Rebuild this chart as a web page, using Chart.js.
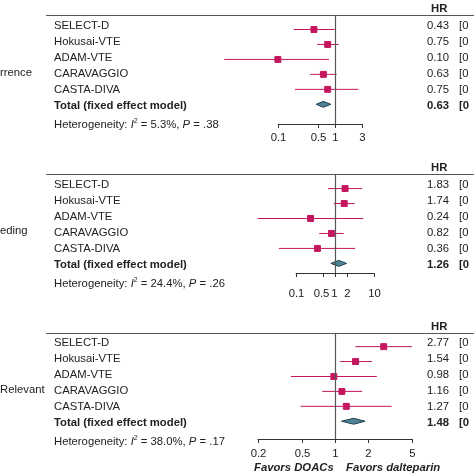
<!DOCTYPE html>
<html><head><meta charset="utf-8">
<script src="https://cdn.jsdelivr.net/npm/chart.js@4/dist/chart.umd.min.js"></script>
<style>
body{margin:0;background:#fff;width:474px;height:474px;overflow:hidden;position:relative;font-family:"Liberation Sans",Arial,sans-serif;color:#222}
canvas{position:absolute;left:0}
.t{position:absolute;font-size:11.3px;white-space:nowrap;line-height:13px}
.b{font-weight:bold}
.r{text-align:right;width:40px}
</style></head><body>
<script>
const studies=["SELECT-D","Hokusai-VTE","ADAM-VTE","CARAVAGGIO","CASTA-DIVA"];
const totalLabel="Total (fixed effect model)";
const outcomes=["rrence","eding","Relevant"];
const hr1=[0.43,0.75,0.10,0.63,0.75], lo1=[0.19,0.49,0.0114,0.37,0.20], hi1=[1.0,1.17,0.79,1.08,2.6];
const tot1=[0.63,0.47,0.85];
const hr2=[1.83,1.74,0.24,0.82,0.36], lo2=[0.67,0.94,0.0106,0.40,0.037], hi2=[5.0,3.2,5.3,1.68,3.3];
const tot2=[1.26,0.79,2.0];
const hr3=[2.77,1.54,0.98,1.16,1.27], lo3=[1.53,1.11,0.40,0.77,0.49], hi3=[5.0,2.17,2.4,1.77,3.26];
const tot3=[1.48,1.15,1.88];
const ticks1=[0.1,0.5,1,3], ticks2=[0.1,0.5,1,2,10], ticks3=[0.2,0.5,1,2,5];
const tickLbl2=["0.1","0.5","1","2","10"];
const het=["5.3%",".38","24.4%",".26","38.0%",".17"];

const panels=[
 {top:0,h:160,hr:hr1,lo:lo1,hi:hi1,tot:tot1,ticks:ticks1,ppd:58.2,row0:26,hdr:15,axis:124,lab:132,lbl:ticks1.map(String),het:[het[0],het[1]],out:outcomes[0],outY:66},
 {top:160,h:160,hr:hr2,lo:lo2,hi:hi2,tot:tot2,ticks:ticks2,ppd:40,row0:25,hdr:14,axis:113,lab:128,lbl:tickLbl2,het:[het[2],het[3]],out:outcomes[1],outY:64},
 {top:320,h:154,hr:hr3,lo:lo3,hi:hi3,tot:tot3,ticks:ticks3,ppd:113,row0:23,hdr:13,axis:119,lab:128,lbl:ticks3.map(String),het:[het[4],het[5]],out:outcomes[2],outY:63}
];
const CX=337, PINK="#c4175f";
function addText(txt,x,y,cls){const d=document.createElement('div');d.className='t '+(cls||'');d.style.left=x+'px';d.style.top=y+'px';d.innerHTML=txt;document.body.appendChild(d);return d;}

panels.forEach((p,pi)=>{
  const c=document.createElement('canvas');c.width=474;c.height=p.h;c.style.top=p.top+'px';c.style.width='474px';c.style.height=p.h+'px';document.body.appendChild(c);
  const ds=[];
  p.hr.forEach((v,i)=>ds.push({type:'line',data:[{x:p.lo[i],y:i},{x:p.hi[i],y:i}],borderColor:PINK,borderWidth:1,pointRadius:0}));
  ds.push({type:'scatter',data:p.hr.map((v,i)=>({x:v,y:i})),pointStyle:'rect',pointRadius:4.2,backgroundColor:PINK,borderColor:PINK});
  const t=p.tot;
  ds.push({type:'line',data:[{x:t[1],y:5},{x:t[0],y:4.8},{x:t[2],y:5},{x:t[0],y:5.2},{x:t[1],y:5}],fill:'shape',backgroundColor:'#4f8296',borderColor:'#1f3f4f',borderWidth:1,pointRadius:0,tension:0});
  const ymin=-p.row0/16;
  const plug={id:'ax'+pi,afterDraw(ch){
    const ctx=ch.ctx,xs=ch.scales.x;ctx.save();
    ctx.strokeStyle='#555';ctx.lineWidth=1.2;
    ctx.beginPath();ctx.moveTo(46,p.hdr+0.5);ctx.lineTo(474,p.hdr+0.5);ctx.stroke();
    const x1=Math.round(xs.getPixelForValue(1))+0.5;
    ctx.beginPath();ctx.moveTo(x1,p.hdr);ctx.lineTo(x1,p.axis);ctx.stroke();
    const a=xs.getPixelForValue(p.ticks[0]),b=xs.getPixelForValue(p.ticks[p.ticks.length-1]);
    ctx.strokeStyle='#333';ctx.lineWidth=1;
    ctx.beginPath();ctx.moveTo(a,p.axis+0.5);ctx.lineTo(b,p.axis+0.5);ctx.stroke();
    ctx.fillStyle='#222';ctx.font='11.3px "Liberation Sans",Arial';ctx.textAlign='center';ctx.textBaseline='top';
    p.ticks.forEach((v,k)=>{const x=Math.round(xs.getPixelForValue(v))+0.5;ctx.beginPath();ctx.moveTo(x,p.axis);ctx.lineTo(x,p.axis+4);ctx.stroke();
      let lx=x; if(pi==1&&k==1)lx=x-2; if(pi==1&&k==2)lx=x-1;
      ctx.fillText(p.lbl[k],lx,p.lab);});
    ctx.restore();}};
  new Chart(c,{data:{datasets:ds},plugins:[plug],options:{responsive:false,animation:false,events:[],
    layout:{padding:0},plugins:{legend:{display:false},tooltip:{enabled:false}},
    scales:{x:{type:'logarithmic',display:false,min:Math.pow(10,-CX/p.ppd),max:Math.pow(10,(474-CX)/p.ppd)},
            y:{type:'linear',display:false,reverse:true,min:ymin,max:ymin+p.h/16}}}});
  // texts
  addText('HR',431,p.top+p.hdr-13,'b');
  addText(p.out,0,p.top+p.outY);
  studies.forEach((s,i)=>{const y=p.top+p.row0+16*i-7;addText(s,54,y);addText(p.hr[i].toFixed(2),409,y,'r');addText('[0',459,y);});
  const yt=p.top+p.row0+80-7;
  addText(totalLabel,54,yt,'b');addText(p.tot[0].toFixed(2),409,yt,'b r');addText('[0',459,yt,'b');
  addText('Heterogeneity: <i>I</i><sup style="font-size:7px">2</sup> = '+p.het[0]+', <i>P</i> = '+p.het[1],54,yt+15);
});
addText('Favors DOACs',254,461,'b').style.fontStyle='italic';
addText('Favors dalteparin',346,461,'b').style.fontStyle='italic';
</script>
</body></html>
